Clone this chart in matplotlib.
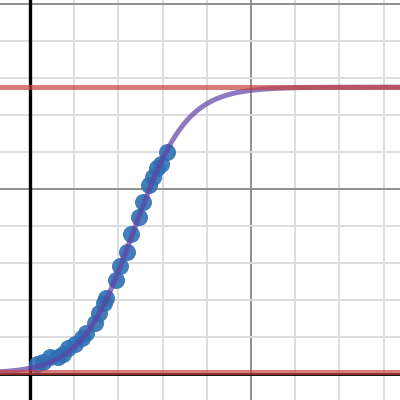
import numpy as np
import matplotlib
matplotlib.use("Agg")
import matplotlib.pyplot as plt

# Data points
x_pts = [0.16, 0.29, 0.45, 0.63, 0.75, 0.86, 1.02, 1.18, 1.27, 1.47, 1.56, 1.67,
         1.72, 1.95, 2.04, 2.19, 2.29, 2.47, 2.56, 2.69, 2.78, 2.87, 2.96, 3.10]
y_pts = [0.26, 0.31, 0.45, 0.45, 0.53, 0.69, 0.80, 0.96, 1.09, 1.36, 1.63, 1.90,
         2.04, 2.53, 2.91, 3.28, 3.77, 4.23, 4.64, 5.09, 5.31, 5.55, 5.66, 5.99]

# Logistic model parameters (fitted curve shown in the picture)
L_cap = 7.74
k_rate = 1.69
x_mid = 2.35

# Horizontal reference lines
h_lines = [0.0, L_cap]

xmin, xmax = -0.679, 8.371
ymin, ymax = -0.716, 10.095

fig = plt.figure(figsize=(4, 4), dpi=100)
ax = fig.add_axes([0, 0, 1, 1])
ax.set_xlim(xmin, xmax)
ax.set_ylim(ymin, ymax)
ax.axis('off')

# grid
for gx in range(-1, 9):
    major = gx % 5 == 0
    if gx == 0:
        continue
    ax.axvline(gx, color='#8f8f8f' if major else '#dedede', lw=1.4, zorder=0)
for gy in range(-1, 11):
    if gy == 0:
        continue
    major = gy % 5 == 0
    ax.axhline(gy, color='#8f8f8f' if major else '#dedede', lw=1.4, zorder=0)

# axes
ax.axvline(0, color='black', lw=2.4, zorder=1)
ax.axhline(0, color='black', lw=2.0, zorder=1)

# points
ax.scatter(x_pts, y_pts, s=150, color='#2d70b3', alpha=0.9, linewidths=0, zorder=3)

# curve
xs = np.linspace(xmin, xmax, 600)
ys = L_cap / (1 + np.exp(-k_rate * (xs - x_mid)))
ax.plot(xs, ys, color='#6042a6', alpha=0.7, lw=3.6, solid_capstyle='butt', zorder=4)

# red lines
for h in h_lines:
    ax.axhline(h + (0.04 if h == 0 else 0), color='#c74440', alpha=0.7, lw=3.6, zorder=5)

fig.savefig('out.png', dpi=100)
